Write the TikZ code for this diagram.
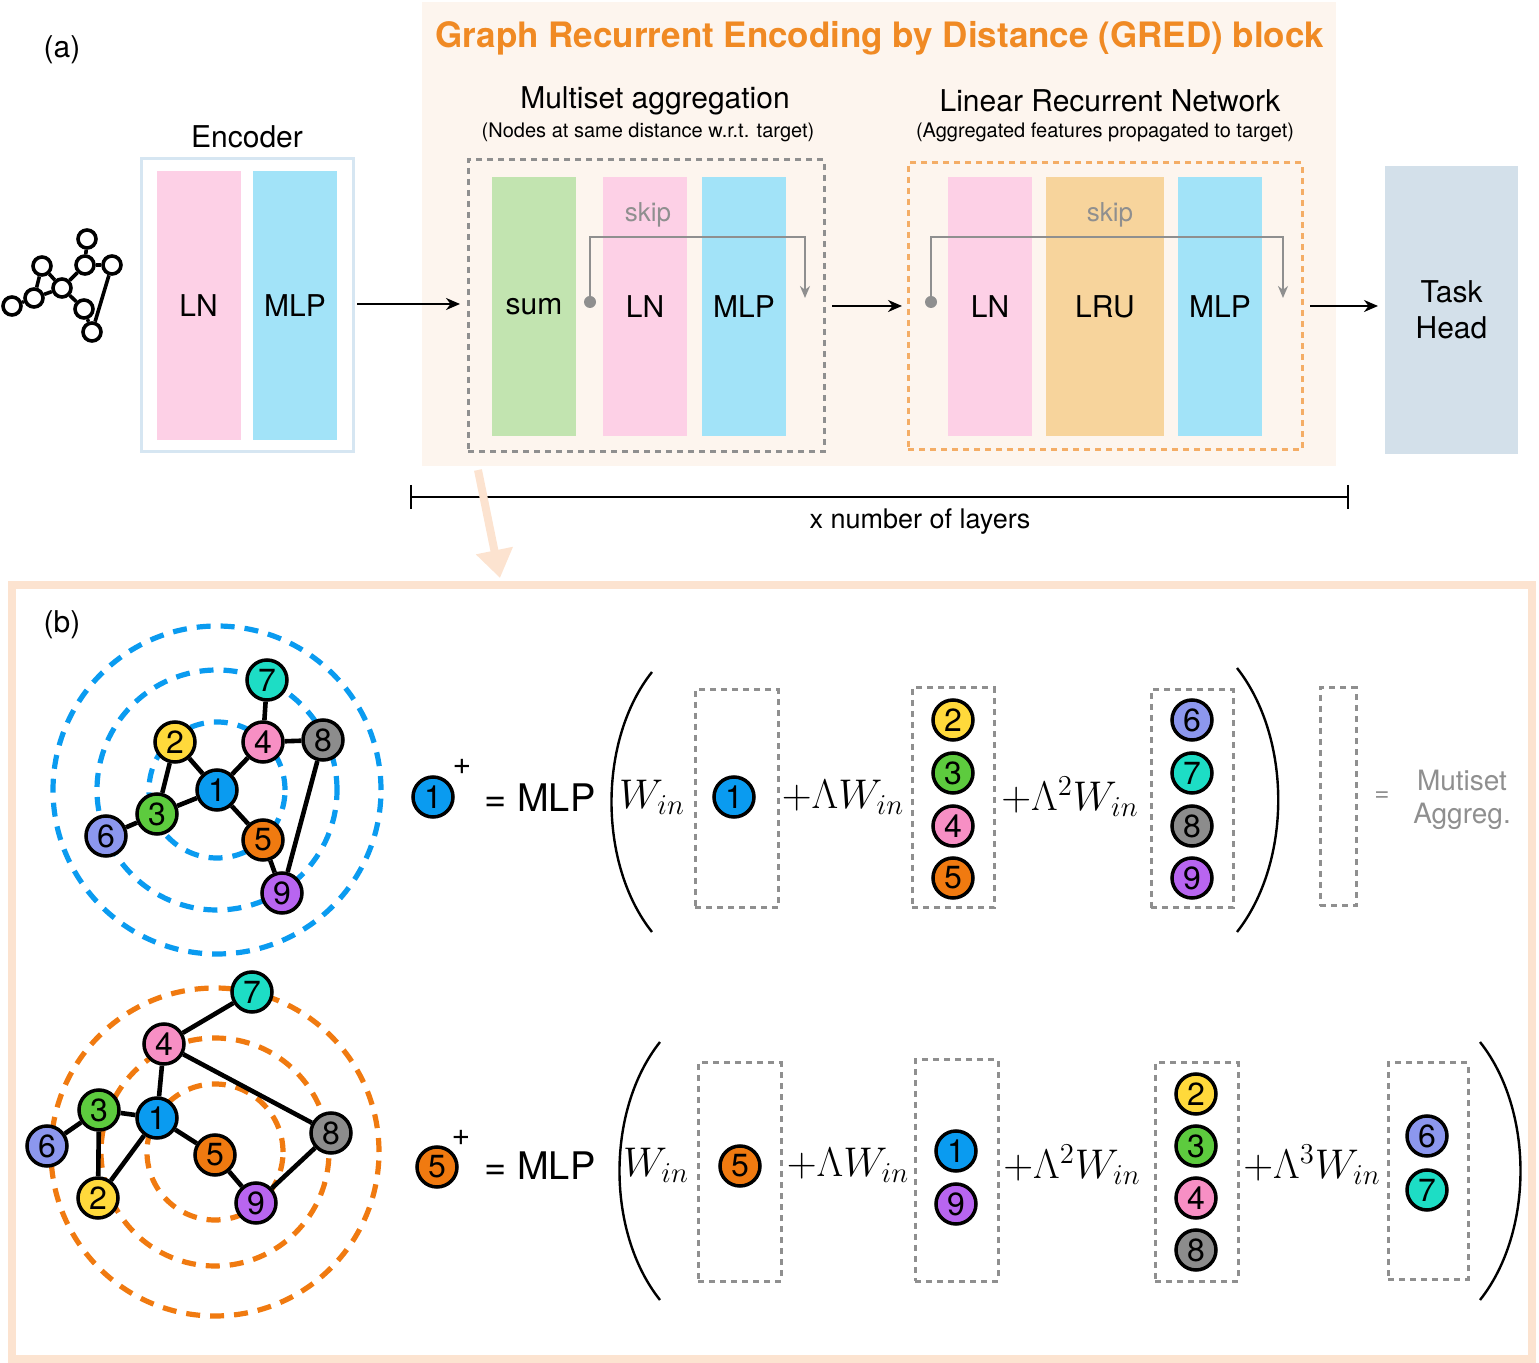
\documentclass[tikz,border=0pt]{standalone}
\usepackage{fontspec}
\setmainfont{TeX Gyre Heros}
\usetikzlibrary{arrows.meta,backgrounds}
\definecolor{cA}{HTML}{0A9BF0}\definecolor{cB}{HTML}{FFD93B}\definecolor{cC}{HTML}{5DCB3E}
\definecolor{cD}{HTML}{F78FC4}\definecolor{cE}{HTML}{F07A10}\definecolor{cF}{HTML}{8C97EE}
\definecolor{cG}{HTML}{1DDDC5}\definecolor{cH}{HTML}{8C8C8C}\definecolor{cI}{HTML}{B865F0}
\definecolor{lnpink}{HTML}{FDD0E6}\definecolor{mlpcyan}{HTML}{A2E3F8}\definecolor{sumgreen}{HTML}{C2E4B0}
\definecolor{lruor}{HTML}{F7D49C}\definecolor{taskc}{HTML}{D3E0EA}\definecolor{peach}{HTML}{FDF5EE}
\definecolor{peachb}{HTML}{FCE3D0}\definecolor{orT}{HTML}{F08A24}\definecolor{encb}{HTML}{D6E6F2}
\definecolor{dgray}{HTML}{8F8F8F}
\begin{document}
\begin{tikzpicture}[x=0.5pt,y=-0.5pt,
 gn/.style={circle,fill=#1,draw=black,line width=1.75pt,minimum size=20pt,inner sep=0pt,font=\fontsize{16}{16}\selectfont},
 ic/.style={circle,draw=black,line width=1.8pt,fill=white,minimum size=9pt,inner sep=0pt},
 ed/.style={line width=2.3pt},
 ring/.style={line width=2.6pt,dash pattern=on 7pt off 5pt},
 blk/.style={minimum width=42pt,minimum height=#1,inner sep=0pt,font=\fontsize{15}{15}\selectfont},
 gbox/.style={draw=dgray,line width=1.5pt,dash pattern=on 3pt off 2.5pt},
 arr/.style={-{Stealth[length=7pt,width=6pt]},line width=1.1pt},
 skp/.style={draw=dgray,line width=1.1pt},
 mt/.style={font=\fontsize{20}{20}\selectfont,inner sep=0pt},
 big/.style={font=\fontsize{15}{15}\selectfont,inner sep=0pt},
 par/.style={line width=1.2pt}]
\useasboundingbox (0,0) rectangle (1539,1363);
\fill[peach] (422,2) rectangle (1336,466);
% ---------- (a)
\node[font=\fontsize{15}{15}\selectfont] (la) at (62,50) {(a)};
\node[big] (enct) at (247,137) {Encoder};
\node[draw=encb,line width=1.5pt,minimum width=106pt,minimum height=146.5pt,inner sep=0] (enc) at (247,305.5) {};
\node[blk=134.5pt,fill=lnpink] (eln) at (198.5,305.5) {LN};
\node[blk=134.5pt,fill=mlpcyan] (emlp) at (295,305.5) {MLP};
% icon graph
\node[ic] (i1) at (87,239) {}; \node[ic] (i2) at (42,266) {}; \node[ic] (i3) at (85,265) {};
\node[ic] (i4) at (112,265) {}; \node[ic] (i5) at (62,288) {}; \node[ic] (i6) at (34,298) {};
\node[ic] (i7) at (12,306) {}; \node[ic] (i8) at (84,309) {}; \node[ic] (i9) at (92,332) {};
\begin{scope}[line width=1.8pt]
\draw (i1)--(i3); \draw (i3)--(i4); \draw (i4)--(i9); \draw (i3)--(i5); \draw (i2)--(i5);
\draw (i2)--(i6); \draw (i5)--(i6); \draw (i6)--(i7); \draw (i5)--(i8); \draw (i8)--(i9);
\end{scope}
\coordinate (a1s) at (357,304); \coordinate (a1e) at (460,304);
\draw[arr] (a1s)--(a1e);
\node[font=\fontsize{17.5}{17.5}\selectfont\bfseries,text=orT] (title) at (880,38) {Graph Recurrent Encoding by Distance (GRED) block};
\node[big] (mat) at (655,101) {Multiset aggregation};
\node[font=\fontsize{10}{10}\selectfont] (mas) at (648,132) {(Nodes at same distance w.r.t. target)};
\node[big] (lrt) at (1110,101) {Linear Recurrent Network};
\node[font=\fontsize{10}{10}\selectfont] (lrs) at (1105,132) {(Aggregated features propagated to target)};
\node[gbox,minimum width=178pt,minimum height=146pt,inner sep=0] (mbox) at (646,306) {};
\node[blk=129.5pt,fill=sumgreen] (sum) at (534,306.5) {sum};
\node[blk=129.5pt,fill=lnpink] (mln) at (645,306.5) {LN};
\node[blk=129.5pt,fill=mlpcyan] (mmlp) at (744,306.5) {MLP};
\node[text=dgray,font=\fontsize{13}{13}\selectfont] (sk1) at (648,215) {skip};
\fill[dgray] (590,302) circle (3pt);
\coordinate (s1a) at (590,302); \coordinate (s1b) at (590,237); \coordinate (s1c) at (805,237); \coordinate (s1d) at (805,298);
\draw[skp,-{Stealth[length=6pt,width=5pt]}] (s1a)--(s1b)--(s1c)--(s1d);
\coordinate (a2s) at (832,306); \coordinate (a2e) at (902,306);
\draw[arr] (a2s)--(a2e);
\node[draw=orT!70,line width=1.5pt,dash pattern=on 3pt off 2.5pt,minimum width=197pt,minimum height=143.5pt,inner sep=0] (lbox) at (1105,306.5) {};
\node[blk=129.5pt,fill=lnpink] (lln) at (990,306.5) {LN};
\node[blk=129.5pt,minimum width=59pt,fill=lruor] (lru) at (1105,306.5) {LRU};
\node[blk=129.5pt,fill=mlpcyan] (lmlp) at (1220,306.5) {MLP};
\node[text=dgray,font=\fontsize{13}{13}\selectfont] (sk2) at (1110,215) {skip};
\fill[dgray] (931,302) circle (3pt);
\coordinate (s2a) at (931,302); \coordinate (s2b) at (931,237); \coordinate (s2c) at (1283,237); \coordinate (s2d) at (1283,298);
\draw[skp,-{Stealth[length=6pt,width=5pt]}] (s2a)--(s2b)--(s2c)--(s2d);
\coordinate (a3s) at (1310,306); \coordinate (a3e) at (1378,306);
\draw[arr] (a3s)--(a3e);
\node[fill=taskc,minimum width=66.5pt,minimum height=144pt,inner sep=0,align=center,font=\fontsize{15}{18}\selectfont] (task) at (1451.5,310) {Task\\Head};
\coordinate (bl) at (411,497); \coordinate (br) at (1348,497);
\draw[line width=1.1pt] (bl)--(br);
\draw[line width=1.1pt] (411,485)--(411,509); \draw[line width=1.1pt] (1348,485)--(1348,509);
\node[font=\fontsize{13.5}{13.5}\selectfont] (nl) at (920,522) {x number of layers};
\coordinate (pa) at (478,470); \coordinate (pb) at (500,578);
\draw[peachb,line width=4pt,-{Triangle[length=14pt,width=18pt]}] (pa)--(pb);
% ---------- (b)
\draw[peachb,line width=4pt] (12,585) rectangle (1532,1359);
\node[font=\fontsize{15}{15}\selectfont] (lb) at (62,625) {(b)};
% top graph
\node[gn=cA] (t1) at (217,790) {1}; \node[gn=cB] (t2) at (175,742) {2}; \node[gn=cC] (t3) at (157,814) {3};
\node[gn=cD] (t4) at (263,742) {4}; \node[gn=cE] (t5) at (263,840) {5}; \node[gn=cF] (t6) at (106,836) {6};
\node[gn=cG] (t7) at (267,680) {7}; \node[gn=cH] (t8) at (323,740) {8}; \node[gn=cI] (t9) at (282,893) {9};
% bottom graph
\node[gn=cA] (u1) at (157,1118) {1}; \node[gn=cB] (u2) at (98,1198) {2}; \node[gn=cC] (u3) at (99,1110) {3};
\node[gn=cD] (u4) at (164,1044) {4}; \node[gn=cE] (u5) at (215,1155) {5}; \node[gn=cF] (u6) at (47,1146) {6};
\node[gn=cG] (u7) at (252,992) {7}; \node[gn=cH] (u8) at (331,1133) {8}; \node[gn=cI] (u9) at (256,1203) {9};
\begin{scope}[on background layer]
\draw[cA,ring] (217,790) circle (34pt); \draw[cA,ring] (217,790) circle (60pt); \draw[cA,ring] (217,790) circle (82pt);
\draw[cE,ring] (215,1152) circle (34pt); \draw[cE,ring] (215,1152) circle (57pt); \draw[cE,ring] (215,1152) circle (82pt);
\foreach \a/\b in {t7/t4,t4/t8,t4/t1,t2/t1,t2/t3,t3/t1,t3/t6,t1/t5,t5/t9,t8/t9}
  \draw[ed] (\a)--(\b);
\foreach \a/\b in {u7/u4,u4/u1,u4/u8,u3/u1,u3/u6,u3/u2,u2/u1,u1/u5,u5/u9,u9/u8}
  \draw[ed] (\a)--(\b);
\end{scope}
% equation 1
\node[gn=cA] (e1) at (433,797) {1};
\node[font=\fontsize{16}{16}\selectfont] (e1p) at (462,767) {+};
\node[big,font=\fontsize{19}{19}\selectfont] (e1m) at (540,798) {= MLP};
\coordinate (lp1a) at (652,672); \coordinate (lp1b) at (652,932);
\draw[par] (lp1a) .. controls (598,740) and (598,864) .. (lp1b);
\node[mt] (w1) at (652,797) {$W_{in}$};
\node[gbox,minimum width=41.5pt,minimum height=109pt,inner sep=0] (b11) at (736.5,799) {};
\node[gn=cA] (q11) at (734,797) {1};
\node[mt] (w12) at (843,797) {$+\Lambda W_{in}$};
\node[gbox,minimum width=41pt,minimum height=110pt,inner sep=0] (b12) at (953,798) {};
\node[gn=cB] (q12) at (953,720) {2}; \node[gn=cC] (q13) at (953,773) {3};
\node[gn=cD] (q14) at (953,826) {4}; \node[gn=cE] (q15) at (953,878) {5};
\node[mt] (w13) at (1070,797) {$+\Lambda^2 W_{in}$};
\node[gbox,minimum width=41pt,minimum height=109pt,inner sep=0] (b13) at (1192,799) {};
\node[gn=cF] (q16) at (1192,720) {6}; \node[gn=cG] (q17) at (1192,773) {7};
\node[gn=cH] (q18) at (1192,826) {8}; \node[gn=cI] (q19) at (1192,878) {9};
\coordinate (rp1a) at (1237,668); \coordinate (rp1b) at (1237,932);
\draw[par] (rp1a) .. controls (1292,738) and (1292,862) .. (rp1b);
\node[gbox,minimum width=18pt,minimum height=109pt,inner sep=0] (b14) at (1338,797) {};
\node[text=dgray,font=\fontsize{13}{13}\selectfont] (eq) at (1382,797) {=};
\node[text=dgray,align=center,font=\fontsize{14}{16.5}\selectfont] (ma) at (1462,800) {Mutiset\\Aggreg.};
% equation 2
\node[gn=cE] (e2) at (437,1167) {5};
\node[font=\fontsize{16}{16}\selectfont] (e2p) at (461,1138) {+};
\node[big,font=\fontsize{19}{19}\selectfont] (e2m) at (540,1166) {= MLP};
\coordinate (lp2a) at (660,1042); \coordinate (lp2b) at (660,1300);
\draw[par] (lp2a) .. controls (606,1110) and (606,1232) .. (lp2b);
\node[mt] (w2) at (656,1165) {$W_{in}$};
\node[gbox,minimum width=41.5pt,minimum height=109pt,inner sep=0] (b21) at (739.5,1172) {};
\node[gn=cE] (q21) at (740,1166) {5};
\node[mt] (w22) at (848,1165) {$+\Lambda W_{in}$};
\node[gbox,minimum width=41.5pt,minimum height=110.5pt,inner sep=0] (b22) at (956.5,1170.5) {};
\node[gn=cA] (q22) at (956,1151) {1}; \node[gn=cI] (q23) at (956,1204) {9};
\node[mt] (w23) at (1072,1165) {$+\Lambda^2 W_{in}$};
\node[gbox,minimum width=41.5pt,minimum height=109pt,inner sep=0] (b23) at (1196.5,1172) {};
\node[gn=cB] (q24) at (1196,1094) {2}; \node[gn=cC] (q25) at (1196,1146) {3};
\node[gn=cD] (q26) at (1196,1198) {4}; \node[gn=cH] (q27) at (1196,1250) {8};
\node[mt] (w24) at (1312,1165) {$+\Lambda^3 W_{in}$};
\node[gbox,minimum width=40pt,minimum height=108pt,inner sep=0] (b24) at (1428,1171) {};
\node[gn=cF] (q28) at (1427,1136) {6}; \node[gn=cG] (q29) at (1427,1190) {7};
\coordinate (rp2a) at (1480,1042); \coordinate (rp2b) at (1480,1300);
\draw[par] (rp2a) .. controls (1534,1110) and (1534,1232) .. (rp2b);
\end{tikzpicture}
\end{document}
